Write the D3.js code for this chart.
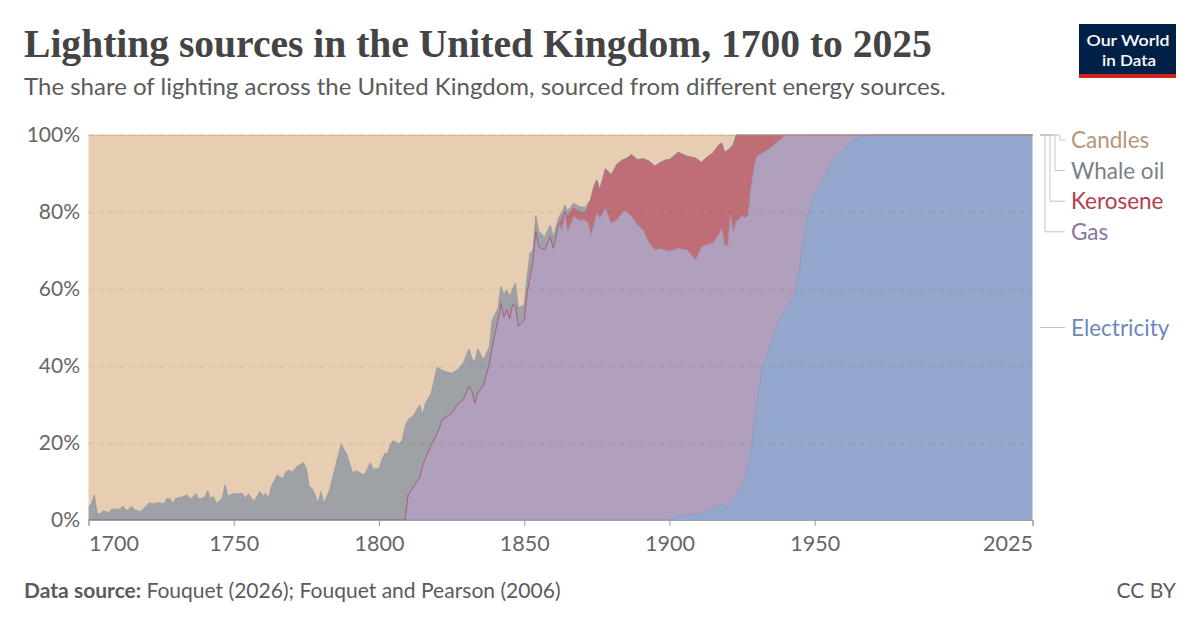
<!DOCTYPE html>
<html>
<head>
<meta charset="utf-8">
<script src="https://cdn.jsdelivr.net/npm/d3@7"></script>
<style>
  body { margin: 0; background: #fff; }
  svg { display: block; font-family: Lato, "Noto Sans", sans-serif; }
</style>
</head>
<body>
<svg id="chart" width="1200" height="627"></svg>
<script>
// share of lighting (%) by source, [year, value]
// a source that has no entry for a year is 0 in that year
const candles = [
  [1700,96.7],[1701,95.7],[1702,93.5],[1703,98.3],[1704,98.4],[1705,97.6],[1707,98.1],[1708,97.2],
  [1710,97.2],[1711,97.0],[1712,96.4],[1713,97.6],[1715,96.5],[1716,97.4],[1718,97.8],[1719,97.0],
  [1721,95.5],[1722,95.8],[1724,95.5],[1726,95.8],[1727,94.4],[1728,94.4],[1729,95.7],[1730,94.4],
  [1732,94.1],[1734,93.5],[1735,94.6],[1737,93.2],[1738,94.6],[1740,94.1],[1741,92.4],[1742,94.4],
  [1743,93.9],[1744,95.7],[1746,94.4],[1747,90.9],[1748,93.8],[1750,93.1],[1751,93.2],[1753,93.1],
  [1754,94.4],[1755,93.2],[1757,95.2],[1759,92.6],[1760,93.8],[1761,93.1],[1762,94.4],[1763,91.2],
  [1765,88.3],[1766,88.9],[1767,89.2],[1768,87.5],[1769,87],[1770,87.5],[1772,86],[1774,85.1],
  [1775,86.6],[1776,91.3],[1777,91.8],[1778,93.5],[1779,95.7],[1780,92.6],[1781,95.7],[1783,92.2],
  [1785,86.1],[1787,80.3],[1789,83.1],[1791,87.9],[1792,87.2],[1795,88.3],[1797,85.1],[1798,86.8],
  [1800,86.6],[1801,84.4],[1802,82.7],[1803,82.7],[1804,80.1],[1805,79.4],[1807,80.3],[1808,79.2],
  [1809,75.8],[1810,74],[1812,72.7],[1814,70.1],[1815,72.7],[1816,69.7],[1818,67],[1820,60.3],
  [1822,61.2],[1825,61.9],[1827,61],[1829,59.3],[1831,55.6],[1832,58],[1833,58.8],[1834,55.6],
  [1836,58.4],[1838,55],[1839,48],[1840,46.5],[1841,45],[1842,39.3],[1843,41.5],[1844,40.2],
  [1845,42],[1846,40],[1847,38.5],[1848,45],[1850,44],[1851,36.7],[1852,30.7],[1853,30],
  [1854,21],[1855,25],[1857,26.4],[1859,23.4],[1860,26.4],[1862,21.2],[1863,20.1],[1864,18.2],
  [1865,19.7],[1867,17.7],[1869,18.6],[1871,18.8],[1872,17.7],[1873,16.5],[1874,13.4],[1875,11.7],
  [1876,14.2],[1878,8.8],[1880,10.3],[1882,7.5],[1884,6.4],[1885,6.2],[1887,5.1],[1889,6.4],
  [1891,6.2],[1893,6.8],[1895,8.1],[1897,7.1],[1899,6.4],[1900,6.4],[1903,4.5],[1906,5.5],
  [1909,6],[1911,7.1],[1913,5.7],[1915,4.7],[1917,2.6],[1918,2.1],[1919,4.5],[1920,4],
  [1921,3.4],[1922,2.5],[1923,0]
];

const whaleOil = [
  [1700,3.3],[1701,4.3],[1702,6.5],[1703,1.7],[1704,1.6],[1705,2.4],[1707,1.9],[1708,2.8],
  [1710,2.8],[1711,3.0],[1712,3.6],[1713,2.4],[1715,3.5],[1716,2.6],[1718,2.2],[1719,3.0],
  [1721,4.5],[1722,4.2],[1724,4.5],[1726,4.2],[1727,5.6],[1728,5.6],[1729,4.3],[1730,5.6],
  [1732,5.9],[1734,6.5],[1735,5.4],[1737,6.8],[1738,5.4],[1740,5.9],[1741,7.6],[1742,5.6],
  [1743,6.1],[1744,4.3],[1746,5.6],[1747,9.1],[1748,6.2],[1750,6.9],[1751,6.8],[1753,6.9],
  [1754,5.6],[1755,6.8],[1757,4.8],[1759,7.4],[1760,6.2],[1761,6.9],[1762,5.6],[1763,8.8],
  [1765,11.7],[1766,11.1],[1767,10.8],[1768,12.5],[1769,13],[1770,12.5],[1772,14],[1774,14.9],
  [1775,13.4],[1776,8.7],[1777,8.2],[1778,6.5],[1779,4.3],[1780,7.4],[1781,4.3],[1783,7.8],
  [1785,13.9],[1787,19.7],[1789,16.9],[1791,12.1],[1792,12.8],[1795,11.7],[1797,14.9],[1798,13.2],
  [1800,13.4],[1801,15.6],[1802,17.3],[1803,17.3],[1804,19.9],[1805,20.6],[1807,19.7],[1808,20.8],
  [1809,24.2],[1810,19.5],[1812,18.6],[1814,18.8],[1815,13.4],[1816,14.3],[1818,13.5],[1820,17.2],
  [1822,12.6],[1825,10.4],[1827,9],[1829,9.5],[1831,9.7],[1832,8.5],[1833,10.9],[1834,11.4],
  [1836,6.6],[1838,4.5],[1839,7],[1840,5],[1841,3],[1842,4.4],[1843,5.8],[1844,5.3],
  [1845,5.7],[1846,4.1],[1847,6],[1848,4.7],[1850,4],[1851,4.4],[1852,6.3],[1853,3],
  [1854,4],[1855,4],[1857,3.5],[1859,3],[1860,3],[1862,1.7],[1863,2],[1864,1.6],
  [1865,1.5],[1867,1.3],[1869,1.3],[1871,1.5],[1872,0.9],[1873,0]
];

const kerosene = [
  [1862,0],[1863,2.6],[1864,0.5],[1865,3.9],[1867,2.2],[1869,2.2],[1871,1.7],[1872,4.3],
  [1873,9.5],[1874,10.1],[1875,8.6],[1876,7.4],[1878,10.2],[1880,12.6],[1882,14.6],[1884,13.5],
  [1885,13.6],[1887,16],[1889,17],[1891,18.5],[1893,21.2],[1895,21.8],[1897,22.4],[1899,23.6],
  [1900,23.8],[1903,24.9],[1906,24.3],[1909,26.4],[1911,21.9],[1913,22.8],[1915,23.3],[1917,23.3],
  [1918,21.9],[1919,24],[1920,25],[1921,17.1],[1922,22.5],[1923,22.5],[1925,21],[1926,21.5],
  [1927,21],[1928,14],[1929,9],[1930,5.5],[1932,4.7],[1934,3.8],[1936,2.5],[1938,1.3],[1940,0]
];

const gas = [
  [1809,0],[1810,6.5],[1812,8.7],[1814,11.1],[1815,13.9],[1816,16],[1818,19.5],[1820,22.5],
  [1822,26.2],[1825,27.7],[1827,30],[1829,31.2],[1831,34.7],[1832,33.5],[1833,30.3],[1834,33],
  [1836,35],[1838,40.5],[1839,45],[1840,48.5],[1841,52],[1842,56.3],[1843,52.7],[1844,54.5],
  [1845,52.3],[1846,55.9],[1847,55.5],[1848,50.3],[1850,52],[1851,58.9],[1852,63],[1853,67],
  [1854,75],[1855,71],[1857,70.1],[1859,73.6],[1860,70.6],[1862,77.1],[1863,75.3],[1864,79.7],
  [1865,74.9],[1867,78.8],[1869,77.9],[1871,78],[1872,77.1],[1873,74],[1874,76.5],[1875,79.7],
  [1876,78.4],[1878,81],[1880,77.1],[1882,77.9],[1884,80.1],[1885,80.2],[1887,78.9],[1889,76.6],
  [1891,75.3],[1893,72],[1895,70.1],[1897,70.5],[1899,70],[1900,69.6],[1903,69.9],[1906,69],
  [1909,66.1],[1911,69.2],[1913,69],[1915,69],[1917,70.2],[1918,72.2],[1919,68],[1920,67.5],
  [1921,75],[1922,69.5],[1923,71],[1925,70],[1926,67.5],[1927,65],[1928,68],[1929,67],
  [1930,64.5],[1932,56.3],[1934,52.2],[1936,49.5],[1938,46.7],[1940,45],[1943,42.4],[1945,34],
  [1947,23],[1950,14.8],[1952,13.5],[1955,8.3],[1958,5],[1960,3.4],[1963,1.5],[1966,0.5],[1970,0]
];

const electricity = [
  [1899,0],[1900,0.2],[1903,0.7],[1906,1.2],[1909,1.5],[1911,1.8],[1913,2.5],[1915,3],
  [1917,3.9],[1918,3.8],[1919,3.5],[1920,3.5],[1921,4.5],[1922,5.5],[1923,6.5],[1925,9],
  [1926,11],[1927,14],[1928,18],[1929,24],[1930,30],[1932,39],[1934,44],[1936,48],
  [1938,52],[1940,55],[1943,57.6],[1945,66],[1947,77],[1950,85.2],[1952,86.5],[1955,91.7],
  [1958,95],[1960,96.6],[1963,98.5],[1966,99.5],[1970,100],[2025,100]
];

// stacking order, bottom to top
const seriesNames = ["Electricity", "Gas", "Kerosene", "Whale oil", "Candles"];
const xTicks = [1700, 1750, 1800, 1850, 1900, 1950, 2025];
const yTicks = [0, 20, 40, 60, 80, 100];

const fills = {
  "Electricity": "#94a8ce", "Gas": "#b09fbd", "Kerosene": "#c06e76",
  "Whale oil": "#9ea1a5", "Candles": "#e7cdb2"
};
const strokes = {
  "Electricity": "#7c93c0", "Gas": "#9985ab", "Kerosene": "#a84f60",
  "Whale oil": "#878b92", "Candles": "#c9a98c"
};
const labelColors = {
  "Electricity": "#6c88ba", "Gas": "#8d72a6", "Kerosene": "#b43c4d",
  "Whale oil": "#7b8088", "Candles": "#b69677"
};

const bySeries = {
  "Electricity": new Map(electricity), "Gas": new Map(gas), "Kerosene": new Map(kerosene),
  "Whale oil": new Map(whaleOil), "Candles": new Map(candles)
};

const years = Array.from(new Set([candles, whaleOil, kerosene, gas, electricity]
  .flatMap(s => s.map(d => d[0])))).sort(d3.ascending);

const rows = years.map(yr => {
  const r = {year: yr};
  seriesNames.forEach(n => { r[n] = bySeries[n].get(yr) ?? 0; });
  return r;
});

const stacked = d3.stack().keys(seriesNames)(rows);

const svg = d3.select("#chart");
const plot = {left: 88.5, right: 1032.5, top: 135, bottom: 520};

const x = d3.scaleLinear().domain([1700, 2025]).range([plot.left, plot.right]);
const y = d3.scaleLinear().domain([0, 100]).range([plot.bottom, plot.top]);

// scale a text's font so that it spans the given width
function fitWidth(sel, width) {
  const fs = parseFloat(sel.attr("font-size"));
  sel.attr("font-size", fs * width / sel.node().getComputedTextLength());
}

// header
const title = svg.append("text")
  .attr("x", 24).attr("y", 57)
  .attr("font-family", "'Liberation Serif', 'DejaVu Serif', serif")
  .attr("font-weight", 600)
  .attr("font-size", 36)
  .attr("fill", "#444")
  .text("Lighting sources in the United Kingdom, 1700 to 2025");
fitWidth(title, 908);

const sub = svg.append("text")
  .attr("x", 24).attr("y", 95)
  .attr("font-size", 21)
  .attr("fill", "#5b5b5b")
  .text("The share of lighting across the United Kingdom, sourced from different energy sources.");
fitWidth(sub, 922);

// logo
const logo = svg.append("g");
logo.append("rect").attr("x", 1079).attr("y", 24).attr("width", 97).attr("height", 54).attr("fill", "#002147");
logo.append("rect").attr("x", 1079).attr("y", 74).attr("width", 97).attr("height", 4).attr("fill", "#ce261e");
logo.append("text").attr("x", 1128).attr("y", 46).attr("text-anchor", "middle")
  .attr("font-size", 16).attr("font-weight", 600).attr("fill", "#fff")
  .attr("textLength", 83).attr("lengthAdjust", "spacingAndGlyphs").text("Our World");
logo.append("text").attr("x", 1129).attr("y", 65.5).attr("text-anchor", "middle")
  .attr("font-size", 16).attr("font-weight", 600).attr("fill", "#fff")
  .attr("textLength", 54).attr("lengthAdjust", "spacingAndGlyphs").text("in Data");

// areas
const area = d3.area()
  .x(d => x(d.data.year))
  .y0(d => y(d[0]))
  .y1(d => y(d[1]));

const line = d3.line()
  .x(d => x(d.data.year))
  .y(d => y(d[1]));

svg.append("g").selectAll("path")
  .data(stacked)
  .join("path")
  .attr("d", area)
  .attr("fill", d => fills[d.key]);

// y grid + labels
const yAxis = svg.append("g")
  .attr("transform", `translate(${plot.left},0)`)
  .call(d3.axisLeft(y).tickValues(yTicks).tickFormat(d => d + "%")
    .tickSize(-(plot.right - plot.left)).tickPadding(8.5));
yAxis.select(".domain").remove();
yAxis.selectAll(".tick line")
  .attr("stroke", "#000")
  .attr("stroke-opacity", d => d === 0 ? 0 : 0.07)
  .attr("stroke-dasharray", "6,4");
yAxis.selectAll(".tick text")
  .attr("font-size", 21)
  .attr("font-family", "Lato, sans-serif")
  .attr("fill", "#666");

// series top lines
svg.append("g").selectAll("path")
  .data(stacked)
  .join("path")
  .attr("d", line)
  .attr("fill", "none")
  .attr("stroke", d => strokes[d.key])
  .attr("stroke-width", 0.9)
  .attr("stroke-opacity", 0.8);

// x axis
const xAxis = svg.append("g")
  .attr("transform", `translate(0,${plot.bottom})`)
  .call(d3.axisBottom(x).tickValues(xTicks).tickFormat(d3.format("d")).tickSize(6));
xAxis.select(".domain").attr("stroke", "#9aa3b5");
xAxis.selectAll(".tick line").attr("stroke", "#999");
xAxis.selectAll(".tick text")
  .attr("y", 16)
  .attr("font-size", 21.5)
  .attr("font-family", "Lato, sans-serif")
  .attr("fill", "#666")
  .attr("text-anchor", d => d === 1700 ? "start" : d === 2025 ? "end" : "middle");

// legend on the right, labels pushed apart
const last = stacked.map(s => {
  const p = s[s.length - 1];
  return {key: s.key, target: y((p[0] + p[1]) / 2)};
}).reverse();

let prev = -Infinity;
last.forEach((d, i) => {
  d.labelY = Math.max(d.target, plot.top + 5, prev + 30.6);
  prev = d.labelY;
  d.bend = 1060 - 5 * i;
});

const legend = svg.append("g");
legend.selectAll("path")
  .data(last)
  .join("path")
  .attr("d", d => `M1040,${d.target}H${d.bend}V${d.labelY}H1065`)
  .attr("fill", "none")
  .attr("stroke", "#c4c4c4")
  .attr("stroke-width", 1);
legend.selectAll("text")
  .data(last)
  .join("text")
  .attr("x", 1071)
  .attr("y", d => d.labelY)
  .attr("dy", "0.36em")
  .attr("font-size", 22.5)
  .attr("fill", d => labelColors[d.key])
  .text(d => d.key);

// footer
const foot = svg.append("text").attr("x", 24).attr("y", 598).attr("font-size", 18).attr("fill", "#5b5b5b");
foot.append("tspan").attr("font-weight", 700).text("Data source: ");
foot.append("tspan").text("Fouquet (2026); Fouquet and Pearson (2006)");
fitWidth(foot, 537);

svg.append("text").attr("x", 1176).attr("y", 598).attr("text-anchor", "end")
  .attr("font-size", foot.attr("font-size")).attr("fill", "#5b5b5b").text("CC BY");
</script>
</body>
</html>
